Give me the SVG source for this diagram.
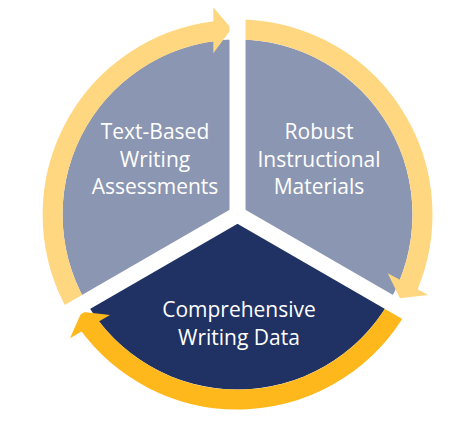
<svg xmlns="http://www.w3.org/2000/svg" width="474" height="431" viewBox="0 0 474 431">
  <style>
    .sector-light { fill: #8B96B2; }
    .sector-dark { fill: #1F3263; }
    .label { font-family: "Open Sans", "Noto Sans", "Liberation Sans", sans-serif; font-size: 21px; fill: #FFFFFF; text-anchor: middle; }
    .arc-light { fill: none; stroke: #FFD781; stroke-width: 20; stroke-linecap: butt; }
    .arc-gold { fill: none; stroke: #FFB81C; stroke-width: 20; stroke-linecap: butt; }
    .head-light { fill: #FFD781; }
    .head-gold { fill: #FFB81C; }
    .gap { stroke: #FFFFFF; stroke-width: 16; stroke-linecap: butt; }
  </style>
  <rect width="474" height="431" fill="#FFFFFF"/>

  <g id="node-text-based-writing-assessments">
    <path class="sector-light" d="M237.5,214.5 L85.95,302 A175,175 0 0 1 237.5,39.5 Z"/>
    <text class="label" x="155" y="139">Text-Based</text>
    <text class="label" x="155" y="167">Writing</text>
    <text class="label" x="155" y="194">Assessments</text>
  </g>

  <g id="node-robust-instructional-materials">
    <path class="sector-light" d="M237.5,214.5 L237.5,39.5 A175,175 0 0 1 389.05,302 Z"/>
    <text class="label" x="319" y="139">Robust</text>
    <text class="label" x="319" y="167">Instructional</text>
    <text class="label" x="319" y="194">Materials</text>
  </g>

  <g id="node-comprehensive-writing-data">
    <path class="sector-dark" d="M237.5,214.5 L389.05,302 A175,175 0 0 1 85.95,302 Z"/>
    <text class="label" x="239" y="317">Comprehensive</text>
    <text class="label" x="239" y="345">Writing Data</text>
  </g>

  <g id="connectors">
    <path class="arc-light" d="M77.29,307 A185,185 0 0 1 215,31.1"/>
    <polygon class="head-light" points="213.3,7.3 231.5,28.8 213.3,53.3"/>
    <path class="arc-light" d="M237.5,29.5 A185,185 0 0 1 407.79,286.79"/>
    <polygon class="head-light" points="387.7,273.3 428.3,295 400,298.3"/>
    <path class="arc-gold" d="M397.71,307 A185,185 0 0 1 87.83,323.24"/>
    <polygon class="head-gold" points="110,315 70,338.3 81.7,311.7"/>
  </g>

  <g id="gaps">
    <line class="gap" x1="237.5" y1="214.5" x2="237.5" y2="0"/>
    <line class="gap" x1="237.5" y1="214.5" x2="423.7" y2="322"/>
    <line class="gap" x1="237.5" y1="214.5" x2="51.3" y2="322"/>
  </g>
</svg>
